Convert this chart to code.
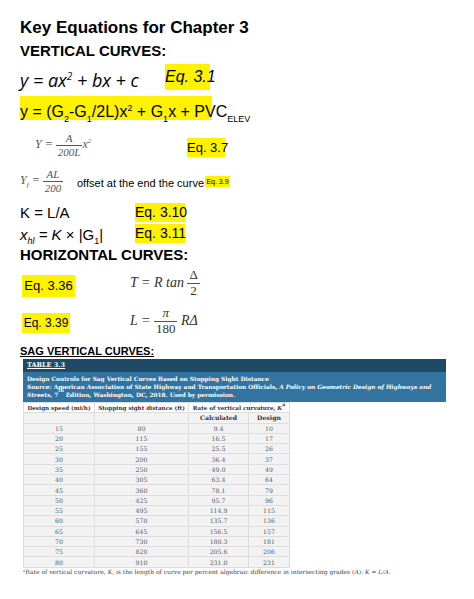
<!DOCTYPE html>
<html><head><meta charset="utf-8">
<script src="https://cdn.jsdelivr.net/npm/chart.js@4/dist/chart.umd.min.js"></script>
<style>
body{margin:0;width:474px;height:599px;background:#fff;font-family:"Liberation Sans",Arial,sans-serif;position:relative;overflow:hidden}
.a{position:absolute;white-space:nowrap}
.hl{background:#fff200}
.ser{font-family:"Liberation Serif",serif;color:#555}
.frac{display:inline-block;vertical-align:middle;text-align:center}
.frac span{display:block;padding:0 2px;line-height:1.15}
.frac span:first-child{border-bottom:1px solid #555}
table{border-collapse:collapse;font-family:"DejaVu Serif",serif;font-size:6.2px;color:#555}
td{border:1px solid #ddd;text-align:center;height:9.3px;padding:0;background:#f2f2f2}
sup.s{font-size:4.5px;vertical-align:top;line-height:0}
</style></head><body>
<div class="a" style="left:20px;top:18px;font-size:17px;font-weight:bold">Key Equations for Chapter 3</div>
<div class="a" style="left:20px;top:42px;font-size:15px;font-weight:bold">VERTICAL CURVES:</div>
<div class="a" style="left:20px;top:68px;font-size:18px;font-style:italic;font-family:'Open Sans',sans-serif">y = ax<sup style="font-size:10px">2</sup> + bx + c</div>
<div class="a hl" style="left:165px;top:64px;width:45px;height:26px;font-size:16px;font-style:italic;font-family:'Liberation Sans',sans-serif;line-height:26px;text-align:center">Eq. 3.1</div>
<div class="a hl" style="left:20px;top:96px;width:192px;height:24px;font-size:16px;line-height:24px">y = (G<sub style="font-size:9px">2</sub>-G<sub style="font-size:9px">1</sub>/2L)x<sup style="font-size:9px">2</sup> + G<sub style="font-size:9px">1</sub>x + PVC<sub style="font-size:9px">ELEV</sub></div>
<div class="a ser" style="left:35px;top:132px;font-size:12px;font-style:italic">Y = <span class="frac" style="font-size:11px"><span>A</span><span>200L</span></span>x<sup style="font-size:7px">2</sup></div>
<div class="a hl" style="left:187px;top:138px;width:38px;height:19px;font-size:13px;line-height:19px">Eq. 3.7</div>
<div class="a ser" style="left:20px;top:168px;font-size:12px;font-style:italic">Y<sub style="font-size:7px">f</sub> = <span class="frac" style="font-size:11px"><span>AL</span><span>200</span></span></div>
<div class="a" style="left:77px;top:177px;font-size:11px">offset at the end the curve</div>
<div class="a hl" style="left:205px;top:176px;width:25px;height:11px;font-size:7px;line-height:11px;text-align:center">Eq. 3.9</div>
<div class="a" style="left:20px;top:204px;font-size:15px">K = L/A</div>
<div class="a hl" style="left:135px;top:203px;width:50px;height:19px;font-size:14px;line-height:19px">Eq. 3.10</div>
<div class="a" style="left:20px;top:226px;font-size:15px"><i>x<sub style="font-size:9px">hl</sub> = K</i> × |G<sub style="font-size:9px">1</sub>|</div>
<div class="a hl" style="left:135px;top:224px;width:50px;height:19px;font-size:14px;line-height:19px">Eq. 3.11</div>
<div class="a" style="left:20px;top:246px;font-size:15px;font-weight:bold">HORIZONTAL CURVES:</div>
<div class="a hl" style="left:22px;top:275px;width:53px;height:22px;font-size:13px;line-height:22px;text-align:center">Eq. 3.36</div>
<div class="a ser" style="left:130px;top:268px;font-size:14px;font-style:italic;color:#333">T = R tan <span class="frac" style="font-size:13px;font-style:normal"><span>Δ</span><span>2</span></span></div>
<div class="a hl" style="left:22px;top:313px;width:48px;height:20px;font-size:12px;line-height:20px;text-align:center">Eq. 3.39</div>
<div class="a ser" style="left:130px;top:306px;font-size:14px;font-style:italic;color:#333">L = <span class="frac" style="font-size:13px;font-style:normal"><span><i>π</i></span><span>180</span></span> <i>R</i>Δ</div>
<div class="a" style="left:20px;top:345px;font-size:11px;font-weight:bold;text-decoration:underline">SAG VERTICAL CURVES:</div>
<div class="a" style="left:23px;top:359px;width:423px;height:13px;background:#1e4a66;color:#fff;font:bold 6.5px 'DejaVu Serif',serif;line-height:13px;padding-left:4px;box-sizing:border-box;text-decoration:underline">TABLE 3.3</div>
<div class="a" style="left:23px;top:372px;width:423px;height:30px;background:#3373a0;color:#fff;font:bold 5.8px 'DejaVu Serif',serif;padding:3px 4px;box-sizing:border-box;white-space:normal;line-height:8px">Design Controls for Sag Vertical Curves Based on Stopping Sight Distance<br><i>Source:</i> American Association of State Highway and Transportation Officials, <i>A Policy on Geometric Design of Highways and Streets</i>, 7<sup class="s">th</sup> Edition, Washington, DC, 2018. Used by permission.</div>
<div class="a" style="left:23px;top:402px" id="tbl"></div>
<div class="a" style="left:23px;top:568px;font:6px 'DejaVu Serif',serif;color:#444">ᵃRate of vertical curvature, <i>K</i>, is the length of curve per percent algebraic difference in intersecting grades (<i>A</i>): <i>K = L/A</i>.</div>
<script>
const speeds = [15,20,25,30,35,40,45,50,55,60,65,70,75,80];
const stopDist = [80,115,155,200,250,305,360,425,495,570,645,730,820,910];
const kCalc = ["9.4","16.5","25.5","36.4","49.0","63.4","78.1","95.7","114.9","135.7","156.5","180.3","205.6","231.0"];
const kDesign = [10,17,26,37,49,64,79,96,115,136,157,181,206,231];
const hs = 'background:#fff;font-weight:bold;color:#333;font-size:5.6px';
let h = `<table><tr><td style="width:70px;${hs}">Design speed (mi/h)</td><td style="width:93px;${hs}">Stopping sight distance (ft)</td><td colspan="2" style="${hs}">Rate of vertical curvature, <i>K</i><sup class="s">a</sup></td></tr>`;
h += '<tr><td></td><td></td><td style="width:59px;font-weight:bold;color:#333">Calculated</td><td style="width:40px;font-weight:bold;color:#333">Design</td></tr>';
speeds.forEach((s,i)=>{ h += `<tr><td>${s}</td><td>${stopDist[i]}</td><td>${kCalc[i]}</td><td>${kDesign[i]}</td></tr>`; });
document.getElementById('tbl').innerHTML = h + '</table>';
</script>
</body></html>
